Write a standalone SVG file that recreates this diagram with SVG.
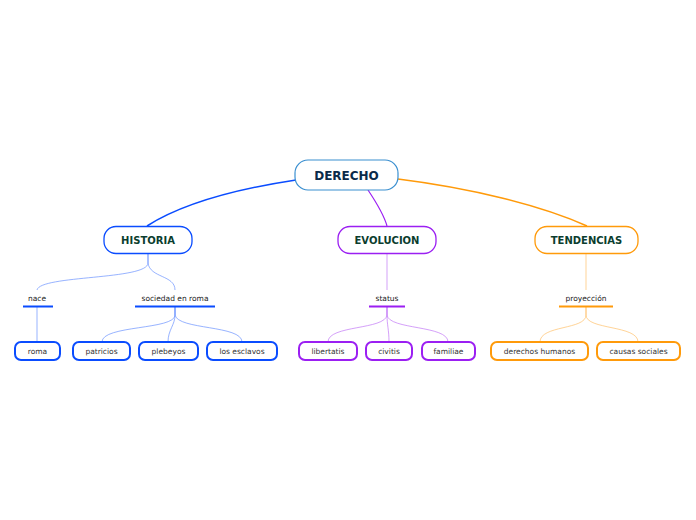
<svg xmlns="http://www.w3.org/2000/svg" width="696" height="520" viewBox="0 0 696 520">
<style>
text{font-family:"DejaVu Sans",Verdana,sans-serif;text-anchor:middle}
.main{font-size:12px;font-weight:bold;fill:#0a2a4a}
.top{font-size:10px;font-weight:bold;fill:#0b3d2e}
.sub{font-size:7.5px;fill:#222}
.leaf{font-size:7.5px;fill:#333}
.b{stroke:#0a4cff}.p{stroke:#9b1ff2}.o{stroke:#ff9a0a}
rect{fill:#fff}
path{fill:none}
</style>
<rect width="696" height="520" fill="#fff"/>
<g id="connectors">
<path class="b" stroke-width="1.5" d="M296,180 C230,190 180,205 147,226"/>
<path class="p" stroke-width="1.2" d="M368,190 C378,205 384,215 387,226"/>
<path class="o" stroke-width="1.5" d="M398,179 C470,188 540,205 587,226"/>
<g stroke-width="0.7" opacity="0.6">
<path class="b" d="M148,254 V263 C148,280 40,275 37,290"/>
<path class="b" d="M148,254 V263 C150,278 175,275 175,290"/>
<path class="b" d="M37,307 V342"/>
<path class="b" d="M175,307 V315 C175,330 102,325 102,342"/>
<path class="b" d="M175,307 V315 C175,325 168,330 168,342"/>
<path class="b" d="M175,307 V315 C178,330 242,325 242,342"/>
<path class="p" d="M387,254 V290"/>
<path class="p" d="M387,307 V315 C385,330 328,325 328,342"/>
<path class="p" d="M387,307 V315 C387,325 389,330 389,342"/>
<path class="p" d="M387,307 V315 C389,330 448,325 448,342"/>
<path class="o" d="M586,254 V290"/>
<path class="o" d="M586,307 V315 C586,330 540,325 540,342"/>
<path class="o" d="M586,307 V315 C586,330 638,325 638,342"/>
</g>
<g stroke-width="2">
<path class="b" d="M23,306.5 H53 M135,306.5 H215"/>
<path class="p" d="M369,306.5 H405"/>
<path class="o" d="M559,306.5 H613"/>
</g>
</g>
<g id="derecho"><rect x="295" y="160" width="103" height="30" rx="13" stroke="#3a8fd0" stroke-width="1.2"/><text class="main" x="346.5" y="179.5">DERECHO</text></g>
<g id="historia"><rect class="b" x="104" y="226.5" width="88" height="27" rx="12" stroke-width="1.3"/><text class="top" x="148" y="244">HISTORIA</text></g>
<g id="evolucion"><rect class="p" x="338" y="226.5" width="98" height="27" rx="12" stroke-width="1.3"/><text class="top" x="387" y="244">EVOLUCION</text></g>
<g id="tendencias"><rect class="o" x="535" y="226.5" width="103" height="27" rx="12" stroke-width="1.3"/><text class="top" x="586.5" y="244">TENDENCIAS</text></g>
<g id="nace"><text class="sub" x="37" y="301">nace</text></g>
<g id="sociedad"><text class="sub" x="175" y="301">sociedad en roma</text></g>
<g id="status"><text class="sub" x="387" y="301">status</text></g>
<g id="proyeccion"><text class="sub" x="586" y="301">proyección</text></g>
<g stroke-width="2">
<g id="roma"><rect class="b" x="15" y="342" width="45" height="18" rx="6"/><text class="leaf" x="37.5" y="354">roma</text></g>
<g id="patricios"><rect class="b" x="73" y="342" width="57" height="18" rx="6"/><text class="leaf" x="101.5" y="354">patricios</text></g>
<g id="plebeyos"><rect class="b" x="139" y="342" width="59" height="18" rx="6"/><text class="leaf" x="168.5" y="354">plebeyos</text></g>
<g id="esclavos"><rect class="b" x="207" y="342" width="70" height="18" rx="6"/><text class="leaf" x="242" y="354">los esclavos</text></g>
<g id="libertatis"><rect class="p" x="299" y="342" width="58" height="18" rx="6"/><text class="leaf" x="328" y="354">libertatis</text></g>
<g id="civitis"><rect class="p" x="366" y="342" width="46" height="18" rx="6"/><text class="leaf" x="389" y="354">civitis</text></g>
<g id="familiae"><rect class="p" x="422" y="342" width="53" height="18" rx="6"/><text class="leaf" x="448.5" y="354">familiae</text></g>
<g id="derechos"><rect class="o" x="491" y="342" width="97" height="18" rx="6"/><text class="leaf" x="539.5" y="354">derechos humanos</text></g>
<g id="causas"><rect class="o" x="597" y="342" width="83" height="18" rx="6"/><text class="leaf" x="638.5" y="354">causas sociales</text></g>
</g>
</svg>
